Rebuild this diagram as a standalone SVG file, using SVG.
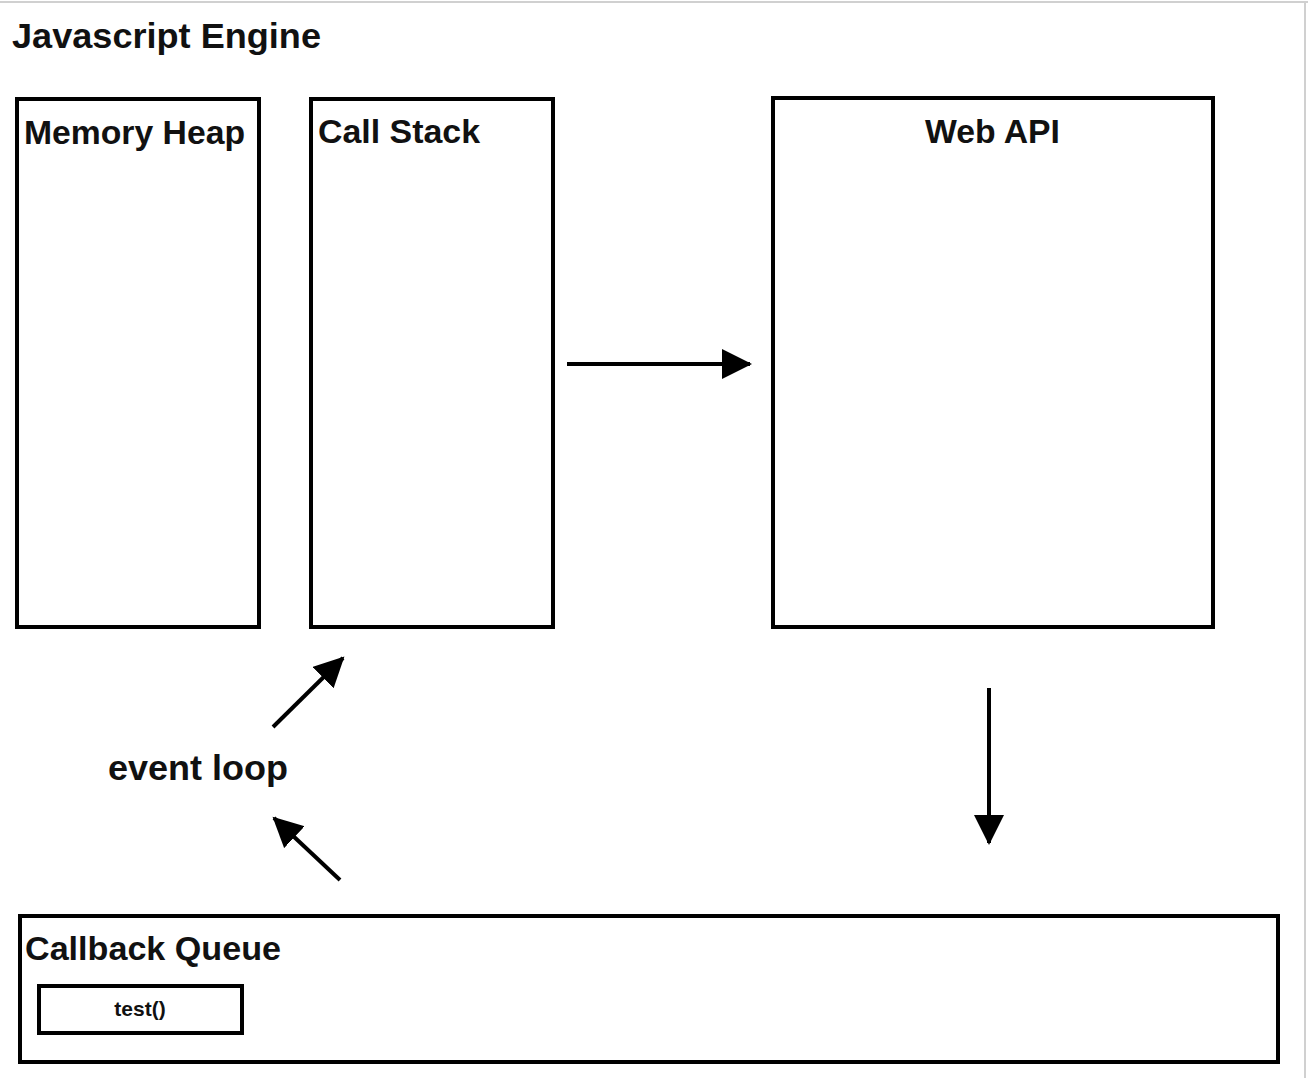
<svg xmlns="http://www.w3.org/2000/svg" width="1308" height="1078" viewBox="0 0 1308 1078">
<style>
.box{fill:#fff;stroke:#000;stroke-width:4}
.t{font-family:"Liberation Sans",Arial,sans-serif;font-weight:bold;fill:#111}
.c{stroke:#000;stroke-width:4;fill:none}
</style>
<defs>
<marker id="ah" markerUnits="userSpaceOnUse" markerWidth="32" markerHeight="32" refX="28" refY="15" orient="auto">
<path d="M0,0 L30,15 L0,30 Z" fill="#000"/>
</marker>
</defs>
<rect width="1308" height="1078" fill="#fff"/>
<line x1="0" y1="2" x2="1308" y2="2" stroke="#d0d0d0" stroke-width="2"/>
<line x1="1305" y1="2" x2="1305" y2="1078" stroke="#d0d0d0" stroke-width="2"/>
<text class="t" x="12" y="48" font-size="35" textLength="309" lengthAdjust="spacingAndGlyphs">Javascript Engine</text>
<g id="memory-heap">
<rect class="box" x="17" y="99" width="242" height="528"/>
<text class="t" x="24" y="144" font-size="33" textLength="221" lengthAdjust="spacingAndGlyphs">Memory Heap</text>
</g>
<g id="call-stack">
<rect class="box" x="311" y="99" width="242" height="528"/>
<text class="t" x="318" y="143" font-size="33" textLength="162" lengthAdjust="spacingAndGlyphs">Call Stack</text>
</g>
<g id="web-api">
<rect class="box" x="773" y="98" width="440" height="529"/>
<text class="t" x="925" y="143" font-size="33" textLength="135" lengthAdjust="spacingAndGlyphs">Web API</text>
</g>
<g id="event-loop">
<text class="t" x="108" y="780" font-size="35" textLength="180" lengthAdjust="spacingAndGlyphs">event loop</text>
</g>
<g id="callback-queue">
<rect class="box" x="20" y="916" width="1258" height="146"/>
<text class="t" x="25" y="960" font-size="33" textLength="256" lengthAdjust="spacingAndGlyphs">Callback Queue</text>
</g>
<g id="test">
<rect class="box" x="39" y="986" width="203" height="47"/>
<text class="t" x="140" y="1016" font-size="21" text-anchor="middle">test()</text>
</g>
<g id="connectors">
<line class="c" x1="567" y1="364" x2="750" y2="364" marker-end="url(#ah)"/>
<line class="c" x1="273" y1="727" x2="343" y2="658" marker-end="url(#ah)"/>
<line class="c" x1="340" y1="880" x2="274" y2="818" marker-end="url(#ah)"/>
<line class="c" x1="989" y1="688" x2="989" y2="843" marker-end="url(#ah)"/>
</g>
</svg>
